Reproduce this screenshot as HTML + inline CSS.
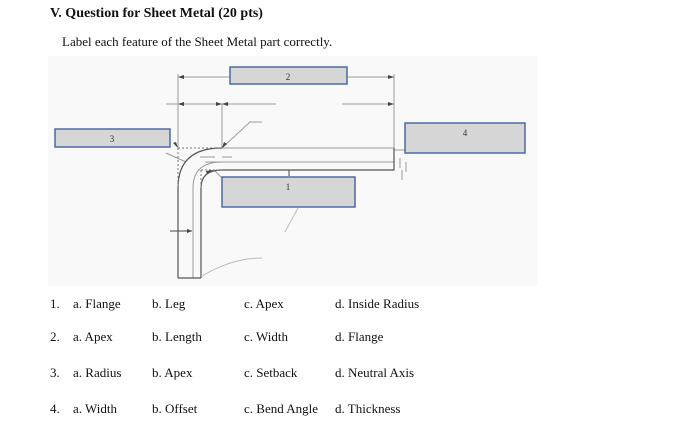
<!DOCTYPE html>
<html><head><meta charset="utf-8"><style>
body{margin:0;background:#fff;width:676px;height:446px;overflow:hidden;font-family:"Liberation Serif",serif;color:#111}
.t{position:absolute;white-space:nowrap}
</style></head><body>
<div class="t" style="left:50px;top:6px;font-size:14px;font-weight:bold">V. Question for Sheet Metal (20 pts)</div>
<div class="t" style="left:62px;top:34px;font-size:13px">Label each feature of the Sheet Metal part correctly.</div>
<svg width="676" height="446" style="position:absolute;left:0;top:0" xmlns="http://www.w3.org/2000/svg">
<rect x="48" y="56" width="490" height="230" fill="#f9f9fa"/>
<g fill="none" stroke="#9a9a9a" stroke-width="1">
<line x1="178" y1="77" x2="230" y2="77"/><line x1="347" y1="77" x2="394" y2="77"/>
<line x1="166" y1="104" x2="276" y2="104"/><line x1="342" y1="104" x2="394" y2="104"/>
<line x1="178" y1="74" x2="178" y2="148"/><line x1="394" y1="74" x2="394" y2="148"/>
<line x1="222" y1="104" x2="222" y2="148"/>
<line x1="222" y1="148" x2="394" y2="148"/>
<line x1="205" y1="162" x2="394" y2="162"/>
<path d="M193 278 V188 Q193 162 222 162"/>
<line x1="222" y1="157" x2="232" y2="157"/><line x1="200" y1="157" x2="215" y2="157"/>
<path d="M222 148 L250 122 L262 122"/>
<path d="M166 153 L186 162"/>
<path d="M222 178 L214 170"/>
<path d="M298 208 L285 232" stroke="#bbb"/>
<path d="M202 276 Q232 258 262 258" stroke="#bbb"/>
<line x1="394" y1="150" x2="405" y2="150"/>
<line x1="400" y1="158" x2="400" y2="168"/><line x1="406" y1="162" x2="406" y2="172"/><line x1="402" y1="170" x2="402" y2="180"/>
<line x1="170" y1="231" x2="192" y2="231" stroke="#444"/>
<line x1="289" y1="170" x2="289" y2="176" stroke="#444"/>
</g>
<g fill="none" stroke="#555" stroke-width="1.2">
<path d="M178 278 V188 Q178 148 222 148"/>
<path d="M201 278 V188 Q201 170 222 170 H394 V148"/>
<line x1="178" y1="278" x2="201" y2="278"/>
</g>
<g fill="none" stroke="#777" stroke-dasharray="2,2">
<line x1="178" y1="148" x2="222" y2="148"/><line x1="178" y1="148" x2="178" y2="188"/>
<line x1="201" y1="170" x2="222" y2="170"/><line x1="201" y1="170" x2="201" y2="188"/>
</g>
<g fill="#444">
<path d="M178 77 l6 -2 v4z"/><path d="M394 77 l-6 -2 v4z"/><path d="M394 104 l-6 -2 v4z"/>
<path d="M178 104 l6 -2 v4z"/><path d="M222 104 l-6 -2 v4z"/><path d="M222 104 l6 -2 v4z"/>
<path d="M178 148 l-5 -5 l3 -1z"/><path d="M222 148 l2 -6 l3 2z"/><path d="M213 170 l-6 4 l-1 -3z"/>
<path d="M192 231 l-5 -2 v4z"/>
</g>
<g fill="#d6d6d6" stroke="#4a6aa8" stroke-width="1.5">
<rect x="230" y="67" width="117" height="17"/>
<rect x="55" y="129" width="115" height="18"/>
<rect x="405" y="123" width="120" height="30"/>
<rect x="222" y="177" width="133" height="30"/>
</g>
<g font-family="Liberation Serif,serif" font-size="9" fill="#333" text-anchor="middle">
<text x="288" y="80">2</text><text x="112" y="142">3</text><text x="465" y="136">4</text><text x="288" y="190">1</text>
</g>
</svg>
<div style="position:absolute;left:0;top:0;font-size:13px">
<div class="t" style="left:50px;top:296px">1.</div><div class="t" style="left:73px;top:296px">a. Flange</div><div class="t" style="left:152px;top:296px">b. Leg</div><div class="t" style="left:244px;top:296px">c. Apex</div><div class="t" style="left:335px;top:296px">d. Inside Radius</div>
<div class="t" style="left:50px;top:329px">2.</div><div class="t" style="left:73px;top:329px">a. Apex</div><div class="t" style="left:152px;top:329px">b. Length</div><div class="t" style="left:244px;top:329px">c. Width</div><div class="t" style="left:335px;top:329px">d. Flange</div>
<div class="t" style="left:50px;top:365px">3.</div><div class="t" style="left:73px;top:365px">a. Radius</div><div class="t" style="left:152px;top:365px">b. Apex</div><div class="t" style="left:244px;top:365px">c. Setback</div><div class="t" style="left:335px;top:365px">d. Neutral Axis</div>
<div class="t" style="left:50px;top:401px">4.</div><div class="t" style="left:73px;top:401px">a. Width</div><div class="t" style="left:152px;top:401px">b. Offset</div><div class="t" style="left:244px;top:401px">c. Bend Angle</div><div class="t" style="left:335px;top:401px">d. Thickness</div>
</div>
</body></html>
